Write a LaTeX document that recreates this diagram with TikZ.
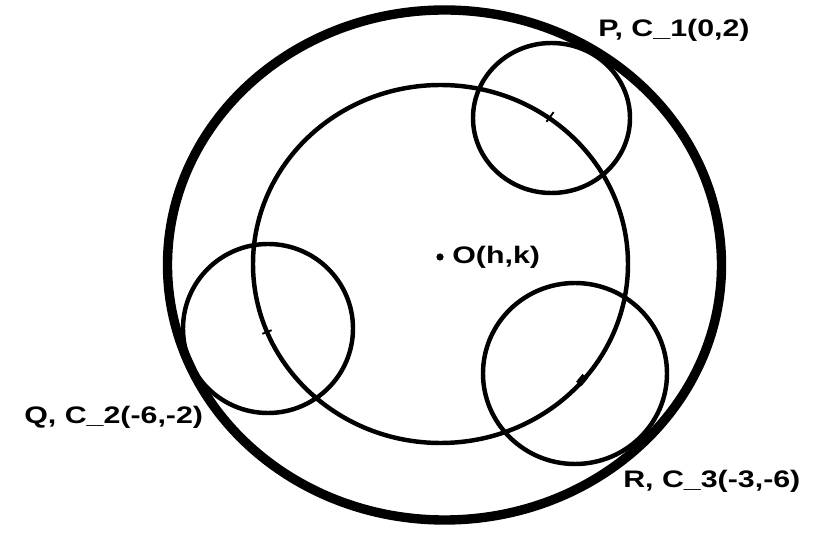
\documentclass[tikz,border=0pt]{standalone}
\usepackage{fontspec}
\setmainfont{Liberation Sans}
\usetikzlibrary{calc}
\newcommand{\ring}[5] % x in px, y in px, x radius, y radius, line width in pt
{
	\draw[line width=#5pt] (#1,#2) ellipse [x radius=#3, y radius=#4];
}
\newcommand{\centremark}[5] % x in px, y in px, angle, half length, line width in pt
{
	\draw[line width=#5pt] ($(#1,#2)+(#3:#4)$) -- ($(#1,#2)-(#3:#4)$);
}
\tikzset{
	lbl/.style={inner sep=0pt, anchor=base west, xscale=1.27,
		font=\fontsize{20.4pt}{24pt}\selectfont\bfseries}
}

\begin{document}
\begin{tikzpicture}[x=0.03cm, y=-0.03cm]
	% 826px x 542px, y downwards
	\useasboundingbox (0,0) rectangle (826,542);

	% outer circle and the circle of centres
	\ring{444.5}{265}{277}{255}{8};
	\ring{440.5}{264}{187.5}{179}{3.8};

	% the three small circles
	\ring{551.5}{118}{78.5}{75}{3.8};
	\ring{268}{328.5}{85}{84.5}{3.8};
	\ring{575}{373.5}{92}{90.5}{3.8};

	% centre marks on the circle of centres
	\centremark{550}{117}{-53.3}{6}{1.6};
	\centremark{267}{332}{158.6}{5}{1.6};
	\centremark{582}{380}{129.3}{5}{6};

	% centre O
	\coordinate (O) at (440,257);
	\fill (O) circle (3.6);
	\node[lbl] (Olbl) at (452,264) {O(h,k)};

	\node[lbl] (Plbl) at (598,37) {P, C\_1(0,2)};
	\node[lbl] (Qlbl) at (24,424) {Q, C\_2(-6,-2)};
	\node[lbl] (Rlbl) at (623,488) {R, C\_3(-3,-6)};
\end{tikzpicture}
\end{document}
